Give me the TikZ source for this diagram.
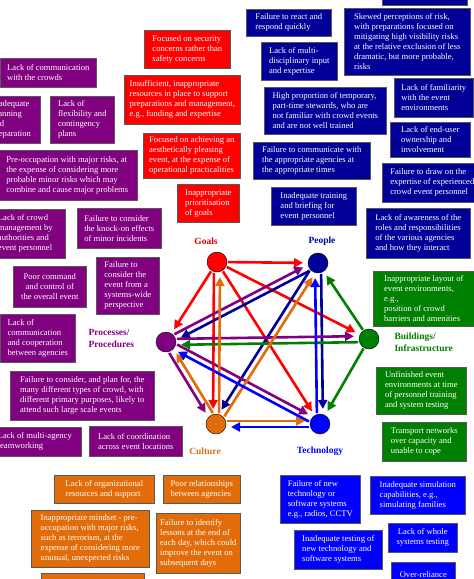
\documentclass[tikz,border=0pt]{standalone}
\usepackage{fontspec}
\setmainfont{Liberation Serif}
\usetikzlibrary{calc}
\usetikzlibrary{arrows.meta}

\definecolor{goalred}{RGB}{255,0,0}
\definecolor{peoplenavy}{RGB}{0,0,153}
\definecolor{procpurple}{RGB}{128,0,128}
\definecolor{buildgreen}{RGB}{0,128,0}
\definecolor{cultorange}{RGB}{227,108,10}
\definecolor{techblue}{RGB}{0,0,255}

\newcommand{\factorfont}{\fontsize{8.6}{10}\selectfont}

\tikzset{
  factor/.style = {draw = black!65, line width = .6pt, fill = #1, text = white,
    font = \factorfont, align = left, anchor = north west, inner xsep = 3pt,
    inner ysep = 2pt},
  hub/.style = {circle, draw = black, fill = #1, minimum size = 20pt, inner sep = 0pt},
  heading/.style = {text = #1, font = \bfseries\fontsize{9.5}{12}\selectfont, align = left},
  link/.style = {draw = #1, line width = 2.6pt, -{Triangle[length = 9pt, width = 9pt]},
    shorten <= 11pt, shorten >= 15pt}
}

\begin{document}
\begin{tikzpicture}[x = 1pt, y = -1pt]
  \useasboundingbox (0, 0) rectangle (474, 579);
  \clip (0, 0) rectangle (474, 579);
  \fill[white] (0, 0) rectangle (474, 579);

  % goals
  \node[factor = goalred, minimum width = 86pt, minimum height = 38pt] (security) at (144, 30)
  {Focused on security\\concerns rather than\\safety concerns};
  \node[factor = goalred, minimum width = 116pt, minimum height = 49pt] (resources) at (124, 75)
  {Insufficient, inappropriate\\resources in place to support\\preparations and management,\\e.g., funding and expertise};
  \node[factor = goalred, minimum width = 97pt, minimum height = 45pt] (aesthetic) at (143, 133)
  {Focused on achieving an\\aesthetically pleasing\\event, at the expense of\\operational practicalities};
  \node[factor = goalred, minimum width = 62pt, minimum height = 38pt] (priorities) at (177, 184)
  {Inappropriate\\prioritisation\\of goals};

  % people
  \node[factor = peoplenavy, minimum width = 85pt, minimum height = 25pt] (topcut) at (382, -20) {};
  \node[factor = peoplenavy, minimum width = 85pt, minimum height = 27pt] (react) at (246, 9)
  {Failure to react and\\respond quickly};
  \node[factor = peoplenavy, minimum width = 126pt, minimum height = 67pt] (skewed) at (344, 8)
  {Skewed perceptions of risk,\\with preparations focused on\\mitigating high visibility risks\\at the relative exclusion of less\\dramatic, but more probable,\\risks};
  \node[factor = peoplenavy, minimum width = 76pt, minimum height = 38pt] (multidisc) at (261, 42)
  {Lack of multi-\\disciplinary input\\and expertise};
  \node[factor = peoplenavy, minimum width = 122pt, minimum height = 47pt] (stewards) at (264, 87)
  {High proportion of temporary,\\part-time stewards, who are\\not familiar with crowd events\\and are not well trained};
  \node[factor = peoplenavy, minimum width = 79pt, minimum height = 39pt] (familiar) at (394, 78)
  {Lack of familiarity\\with the event\\environments};
  \node[factor = peoplenavy, minimum width = 80pt, minimum height = 35pt] (enduser) at (390, 122)
  {Lack of end-user\\ownership and\\involvement};
  \node[factor = peoplenavy, minimum width = 117pt, minimum height = 37pt] (communicate) at (253, 142)
  {Failure to communicate with\\the appropriate agencies at\\the appropriate times};
  \node[factor = peoplenavy, minimum width = 100pt, minimum height = 39pt] (expertise) at (382, 163)
  {Failure to draw on the\\expertise of experienced\\crowd event personnel};
  \node[factor = peoplenavy, minimum width = 85pt, minimum height = 38pt] (training) at (271, 187)
  {Inadequate training\\and briefing for\\event personnel};
  \node[factor = peoplenavy, minimum width = 104pt, minimum height = 50pt] (roles) at (366, 208)
  {Lack of awareness of the\\roles and responsibilities\\of the various agencies\\and how they interact};

  % processes
  \node[factor = procpurple, minimum width = 96pt, minimum height = 29pt] (crowds) at (0, 58)
  {Lack of communication\\with the crowds};
  \node[factor = procpurple, minimum width = 58pt, minimum height = 47pt] (planning) at (-18, 96)
  {Inadequate\\planning\\and\\preparation};
  \node[factor = procpurple, minimum width = 64pt, minimum height = 47pt] (flexible) at (50, 96)
  {Lack of\\flexibility and\\contingency\\plans};
  \node[factor = procpurple, minimum width = 140pt, minimum height = 50pt] (majorrisks) at (-3, 150)
  {Pre-occupation with major risks, at\\the expense of considering more\\probable minor risks which may\\combine and cause major problems};
  \node[factor = procpurple, minimum width = 80pt, minimum height = 49pt] (management) at (-15, 209)
  {Lack of crowd\\management by\\authorities and\\event personnel};
  \node[factor = procpurple, minimum width = 84pt, minimum height = 40pt] (knockon) at (77, 208)
  {Failure to consider\\the knock-on effects\\of minor incidents};
  \node[factor = procpurple, minimum width = 73pt, minimum height = 41pt, align = center] (command) at (13, 266)
  {Poor command\\and control of\\the overall event};
  \node[factor = procpurple, minimum width = 63pt, minimum height = 57pt] (systemswide) at (96, 257)
  {Failure to\\consider the\\event from a\\systems-wide\\perspective};
  \node[factor = procpurple, minimum width = 75pt, minimum height = 48pt] (cooperation) at (0, 314)
  {Lack of\\communication\\and cooperation\\between agencies};
  \node[factor = procpurple, minimum width = 144pt, minimum height = 49pt] (crowdtypes) at (10, 371)
  {Failure to consider, and plan for, the\\many different types of crowd, with\\different primary purposes, likely to\\attend such large scale events};
  \node[factor = procpurple, minimum width = 93pt, minimum height = 29pt] (teamwork) at (-12, 427)
  {Lack of multi-agency\\teamworking};
  \node[factor = procpurple, minimum width = 93pt, minimum height = 30pt] (locations) at (89, 426)
  {Lack of coordination\\across event locations};

  % buildings
  \node[factor = buildgreen, minimum width = 101pt, minimum height = 55pt] (layout) at (373, 271)
  {Inappropriate layout of\\event environments,\\e.g.,\\position of crowd\\barriers and amenities};
  \node[factor = buildgreen, minimum width = 90pt, minimum height = 47pt] (unfinished) at (376, 367)
  {Unfinished event\\environments at time\\of personnel training\\and system testing};
  \node[factor = buildgreen, minimum width = 84pt, minimum height = 39pt] (transport) at (382, 422)
  {Transport networks\\over capacity and\\unable to cope};

  % culture
  \node[factor = cultorange, minimum width = 100pt, minimum height = 28pt] (orgsupport) at (54, 475)
  {Lack of organizational\\resources and support};
  \node[factor = cultorange, minimum width = 77pt, minimum height = 28pt] (relations) at (163, 475)
  {Poor relationships\\between agencies};
  \node[factor = cultorange, minimum width = 118pt, minimum height = 57pt] (mindset) at (31, 510)
  {Inappropriate mindset - pre-\\occupation with major risks,\\such as terrorism, at the\\expense of considering more\\unusual, unexpected risks};
  \node[factor = cultorange, minimum width = 84pt, minimum height = 60pt] (lessons) at (156, 513)
  {Failure to identify\\lessons at the end of\\each day, which could\\improve the event on\\subsequent days};
  \node[factor = cultorange, minimum width = 103pt, minimum height = 20pt] (bottomcut) at (41, 573) {};

  % technology
  \node[factor = techblue, minimum width = 80pt, minimum height = 48pt] (newtech) at (280, 475)
  {Failure of new\\technology or\\software systems\\e.g., radios, CCTV};
  \node[factor = techblue, minimum width = 95pt, minimum height = 38pt] (simulation) at (370, 476)
  {Inadequate simulation\\capabilities, e.g.,\\simulating families};
  \node[factor = techblue, minimum width = 88pt, minimum height = 39pt] (testing) at (294, 530)
  {Inadequate testing of\\new technology and\\software systems};
  \node[factor = techblue, minimum width = 69pt, minimum height = 29pt, align = center] (wholesys) at (388, 523)
  {Lack of whole\\systems testing};
  \node[factor = techblue, minimum width = 64pt, minimum height = 25pt] (overreliance) at (391, 562)
  {Over-reliance};

  % hubs
  \node[hub = goalred] (goals) at (217, 262) {};
  \node[hub = peoplenavy] (people) at (318, 263) {};
  \node[hub = procpurple] (procs) at (166, 342) {};
  \node[hub = buildgreen] (build) at (369, 339) {};
  \node[hub = cultorange] (culture) at (216, 424) {};
  \node[hub = techblue] (tech) at (320, 424) {};

  \node[heading = goalred!85!black] (goalslabel) at (206, 241) {Goals};
  \node[heading = peoplenavy] (peoplelabel) at (322, 241) {People};
  \node[heading = procpurple, anchor = west] (procslabel) at (85, 338) {Processes/\\Procedures};
  \node[heading = buildgreen, anchor = west] (buildlabel) at (391, 342) {Buildings/\\Infrastructure};
  \node[heading = cultorange] (culturelabel) at (205, 451) {Culture};
  \node[heading = techblue] (techlabel) at (320, 451) {Technology};

  % links
  \foreach \from/\to/\col/\off in {
    goals/people/goalred/0pt, goals/procs/goalred/0pt, goals/culture/goalred/-3pt,
    goals/tech/goalred/0pt, goals/build/goalred/0pt,
    people/procs/peoplenavy/3pt, people/culture/peoplenavy/-3pt, people/tech/peoplenavy/3pt,
    procs/people/procpurple/3pt, procs/build/procpurple/3pt, procs/tech/procpurple/3pt,
    procs/culture/procpurple/-3pt,
    build/people/buildgreen/0pt, build/procs/buildgreen/3pt, build/tech/buildgreen/0pt,
    culture/goals/cultorange/-3pt, culture/people/cultorange/-3pt,
    culture/procs/cultorange/-3pt, culture/tech/cultorange/3pt,
    tech/people/techblue/3pt, tech/procs/techblue/3pt, tech/culture/techblue/3pt}
  \draw[link = \col] ($(\from)!\off!90:(\to)$) -- ($(\to)!\off!-90:(\from)$);
\end{tikzpicture}
\end{document}
